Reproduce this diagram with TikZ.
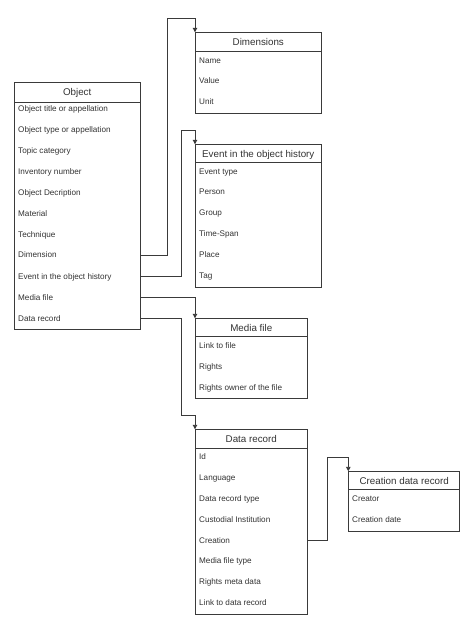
\documentclass[tikz,border=0pt]{standalone}
\usepackage{fontspec}
\setmainfont{Liberation Sans}
\usetikzlibrary{arrows.meta}
\definecolor{ink}{HTML}{333333}
\definecolor{edge}{HTML}{3A3A3A}
\begin{document}
\begin{tikzpicture}[x=1pt,y=-1pt,
  hbox/.style={draw=edge,line width=0.9pt,anchor=north west,inner sep=0pt,
    text=ink,font=\fontsize{9.8}{11}\selectfont,text height=7pt,text depth=0pt},
  bbox/.style={draw=edge,line width=0.9pt,anchor=north west,inner sep=0pt},
  row/.style={anchor=west,inner sep=0pt,text=ink,
    font=\fontsize{8.15}{10}\selectfont,text height=5.8pt,text depth=0pt},
  link/.style={draw=edge,line width=0.9pt,-{Triangle[length=4.5pt,width=4.5pt]}}]
\useasboundingbox (0,0) rectangle (474,631);
\fill[white] (0,0) rectangle (474,631);

% ---------- Object ----------
\node[bbox,minimum width=125.5pt,minimum height=247.6pt] (obj) at (14,81.7) {};
\node[hbox,minimum width=125.5pt,minimum height=20.6pt] (objh) at (14,81.7) {Object};
\node[row] (o1) at (18,109) {Object title or appellation};
\node[row] (o2) at (18,130) {Object type or appellation};
\node[row] (o3) at (18,151) {Topic category};
\node[row] (o4) at (18,172) {Inventory number};
\node[row] (o5) at (18,193) {Object Decription};
\node[row] (o6) at (18,213.5) {Material};
\node[row] (o7) at (18,234.5) {Technique};
\node[row] (o8) at (18,255) {Dimension};
\node[row] (o9) at (18,276.5) {Event in the object history};
\node[row] (o10) at (18,297.5) {Media file};
\node[row] (o11) at (18,318.5) {Data record};

% ---------- Dimensions ----------
\node[bbox,minimum width=125.7pt,minimum height=81pt] (dim) at (195,32.3) {};
\node[hbox,minimum width=125.7pt,minimum height=18.7pt] (dimh) at (195,32.3) {Dimensions};
\node[row] (d1) at (199,60.7) {Name};
\node[row] (d2) at (199,81) {Value};
\node[row] (d3) at (199,101.7) {Unit};

% ---------- Event ----------
\node[bbox,minimum width=125.7pt,minimum height=143pt] (evt) at (195,144.3) {};
\node[hbox,minimum width=125.7pt,minimum height=17.7pt] (evth) at (195,144.3) {Event in the object history};
\node[row] (e1) at (199,171.7) {Event type};
\node[row] (e2) at (199,191.5) {Person};
\node[row] (e3) at (199,212.7) {Group};
\node[row] (e4) at (199,233.5) {Time-Span};
\node[row] (e5) at (199,255) {Place};
\node[row] (e6) at (199,275.7) {Tag};

% ---------- Media file ----------
\node[bbox,minimum width=111.7pt,minimum height=80pt] (med) at (195,318.3) {};
\node[hbox,minimum width=111.7pt,minimum height=17.7pt] (medh) at (195,318.3) {Media file};
\node[row] (m1) at (199,345.3) {Link to file};
\node[row] (m2) at (199,366.3) {Rights};
\node[row] (m3) at (199,387.3) {Rights owner of the file};

% ---------- Data record ----------
\node[bbox,minimum width=111.7pt,minimum height=184.7pt] (dat) at (195,429.3) {};
\node[hbox,minimum width=111.7pt,minimum height=18.4pt] (dath) at (195,429.3) {Data record};
\node[row] (r1) at (199,457) {Id};
\node[row] (r2) at (199,478) {Language};
\node[row] (r3) at (199,499) {Data record type};
\node[row] (r4) at (199,519.5) {Custodial Institution};
\node[row] (r5) at (199,540.5) {Creation};
\node[row] (r6) at (199,561) {Media file type};
\node[row] (r7) at (199,582) {Rights meta data};
\node[row] (r8) at (199,602.7) {Link to data record};

% ---------- Creation data record ----------
\node[bbox,minimum width=111pt,minimum height=59.4pt] (cre) at (348.3,471.3) {};
\node[hbox,minimum width=111pt,minimum height=17.7pt] (creh) at (348.3,471.3) {Creation data record};
\node[row] (c1) at (352,499) {Creator};
\node[row] (c2) at (352,519.5) {Creation date};

% ---------- waypoints ----------
\coordinate (w1) at (167,18.3);
\coordinate (w2) at (181.7,130.7);
\coordinate (w4) at (181.7,415.7);
\coordinate (w5) at (327.3,457.7);

% ---------- connectors ----------
\draw[link] (obj.east |- o8) -| (w1) -| (dimh.north west);
\draw[link] (obj.east |- o9) -| (w2) -| (evth.north west);
\draw[link] (obj.east |- o10) -| (medh.north west);
\draw[link] (obj.east |- o11) -| (w4) -| (dath.north west);
\draw[link] (dat.east |- r5) -| (w5) -| (creh.north west);
\end{tikzpicture}
\end{document}
